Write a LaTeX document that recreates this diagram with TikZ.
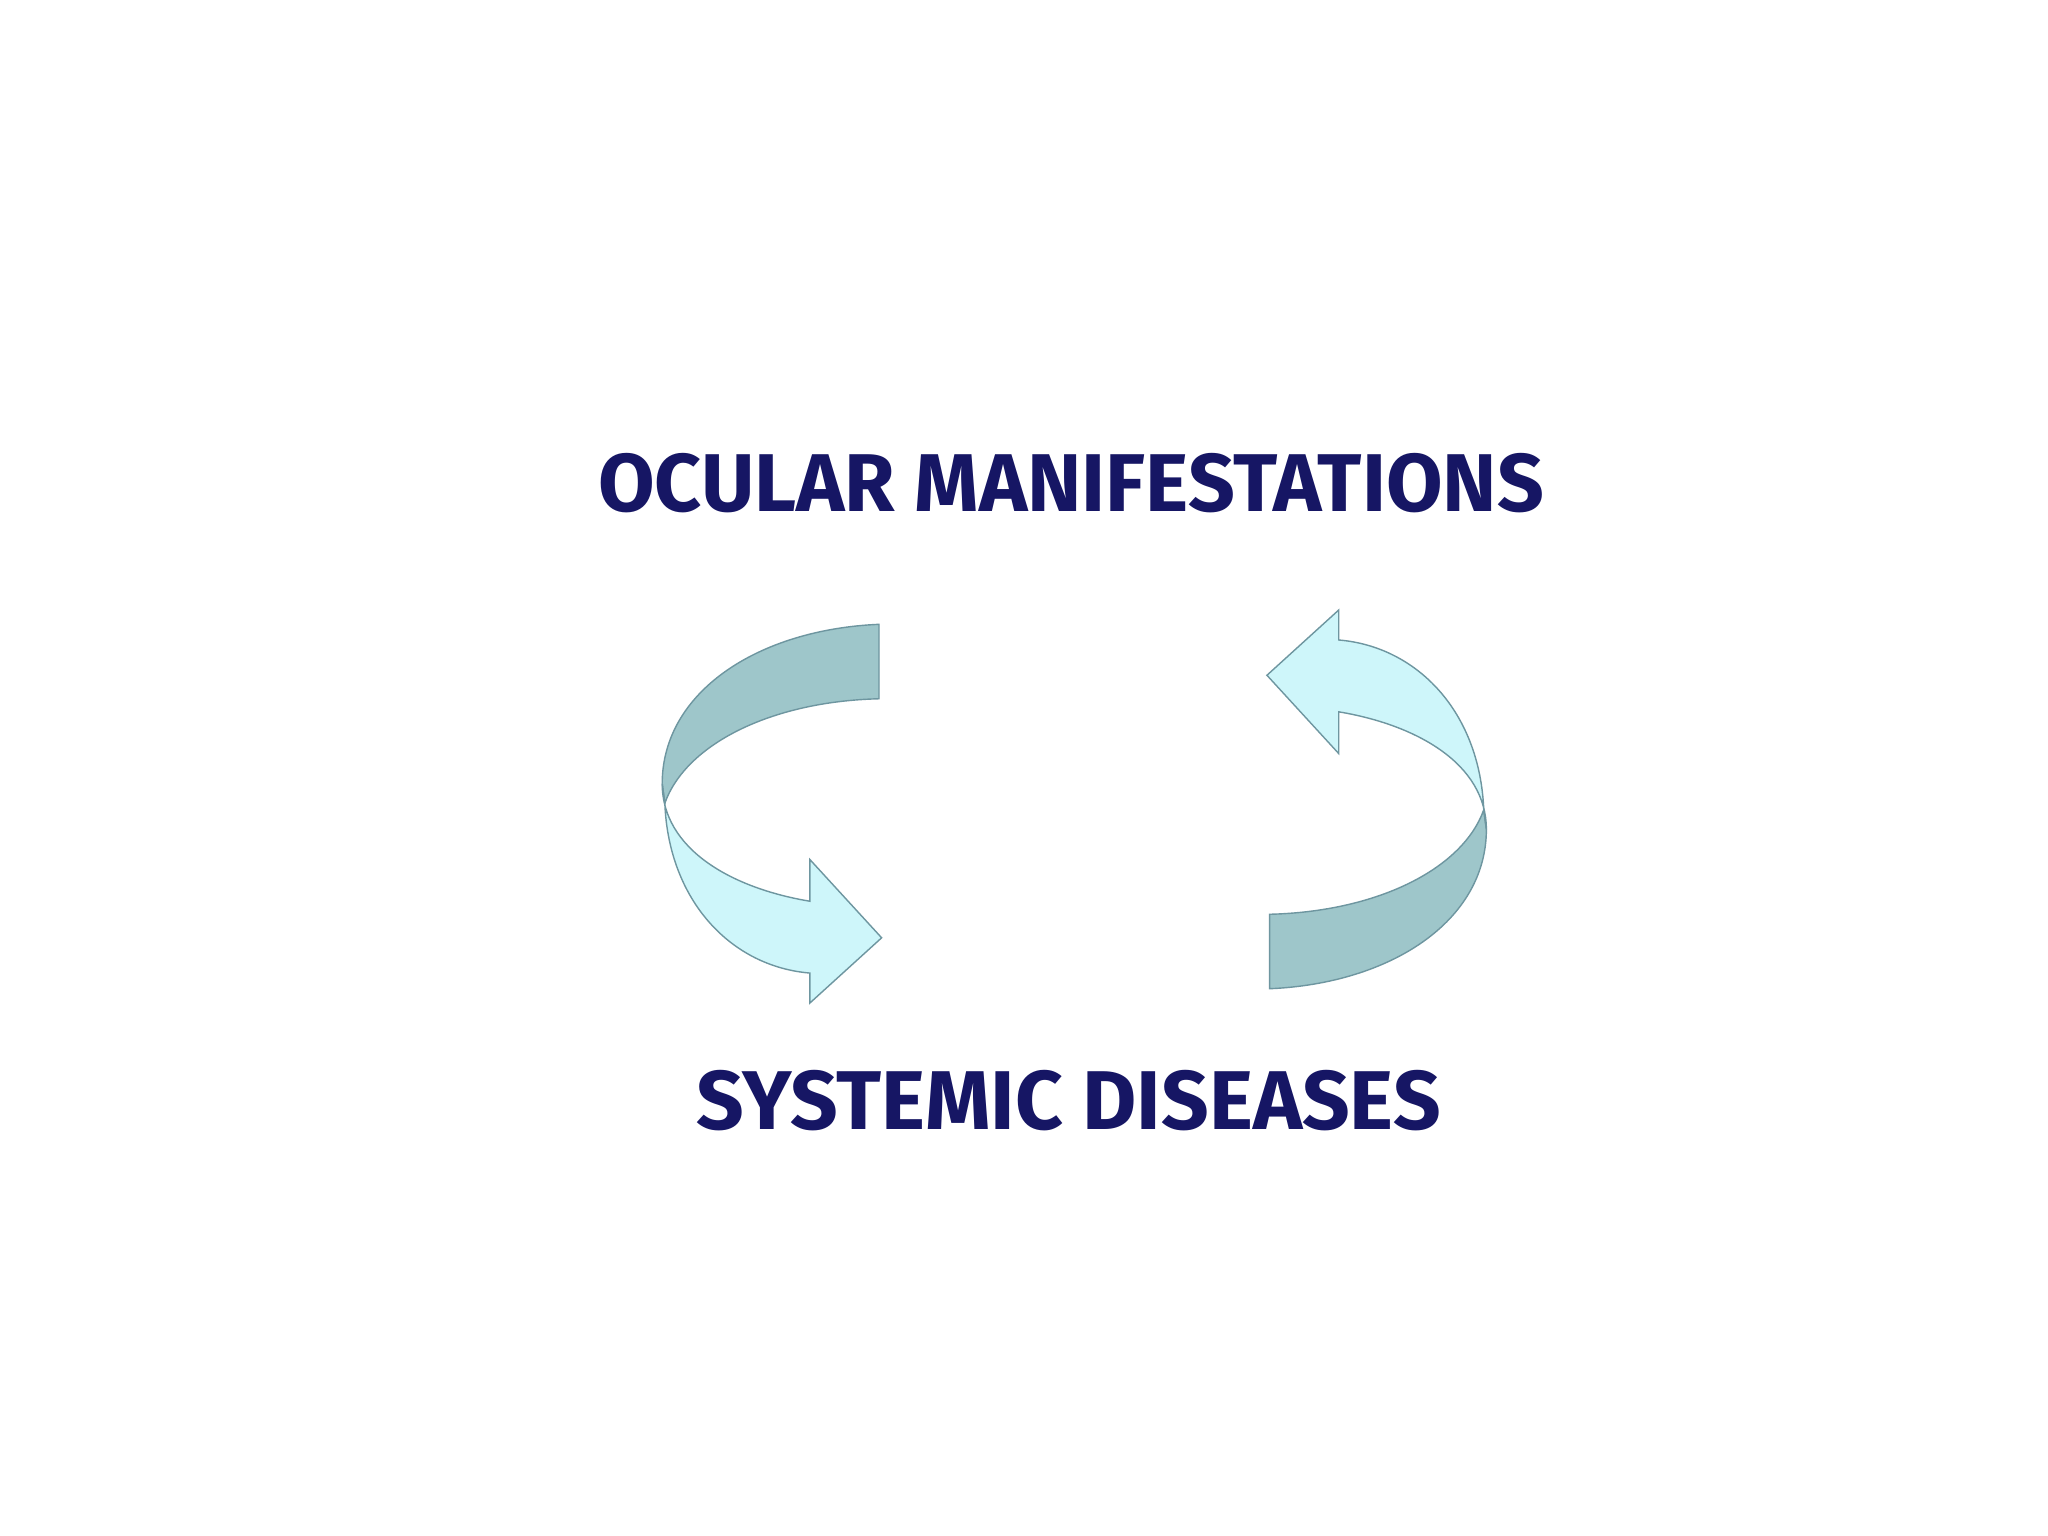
\documentclass[tikz,border=0pt]{standalone}
\usepackage{fontspec}
\setmainfont{Fira Sans}
\begin{document}
\begin{tikzpicture}[x=0.01306cm,y=-0.01306cm,
  dark/.style={fill={rgb,255:red,158;green,198;blue,202},draw={rgb,255:red,110;green,150;blue,160},line width=0.4pt},
  light/.style={fill={rgb,255:red,206;green,246;blue,250},draw={rgb,255:red,110;green,150;blue,160},line width=0.4pt},
  lbl/.style={text={rgb,255:red,22;green,22;blue,100},font=\bfseries}]
\fill[white] (0,0) rectangle (1568,1176);
\node[lbl] (top) at (820,370) {\resizebox{724\dimexpr0.01306cm\relax}{!}{OCULAR MANIFESTATIONS}};
\node[lbl] (bot) at (818,843) {\resizebox{570\dimexpr0.01306cm\relax}{!}{SYSTEMIC DISEASES}};
\foreach \r/\n in {0/la,180/ra}{
\begin{scope}[rotate around={\r:(822.5,617.5)}]
\path[dark] (673,478) .. controls (580,482) and (507,530) .. (507,600)
  -- (509,615) .. controls (525,570) and (590,537) .. (673,535) -- cycle;
\path[light] (507,600) .. controls (507,650) and (560,680) .. (620,690)
  -- (620,658) -- (675,718) -- (620,768) -- (620,745)
  .. controls (560,740) and (512,690) .. (509,615) -- cycle;
\end{scope}}
\end{tikzpicture}
\end{document}
